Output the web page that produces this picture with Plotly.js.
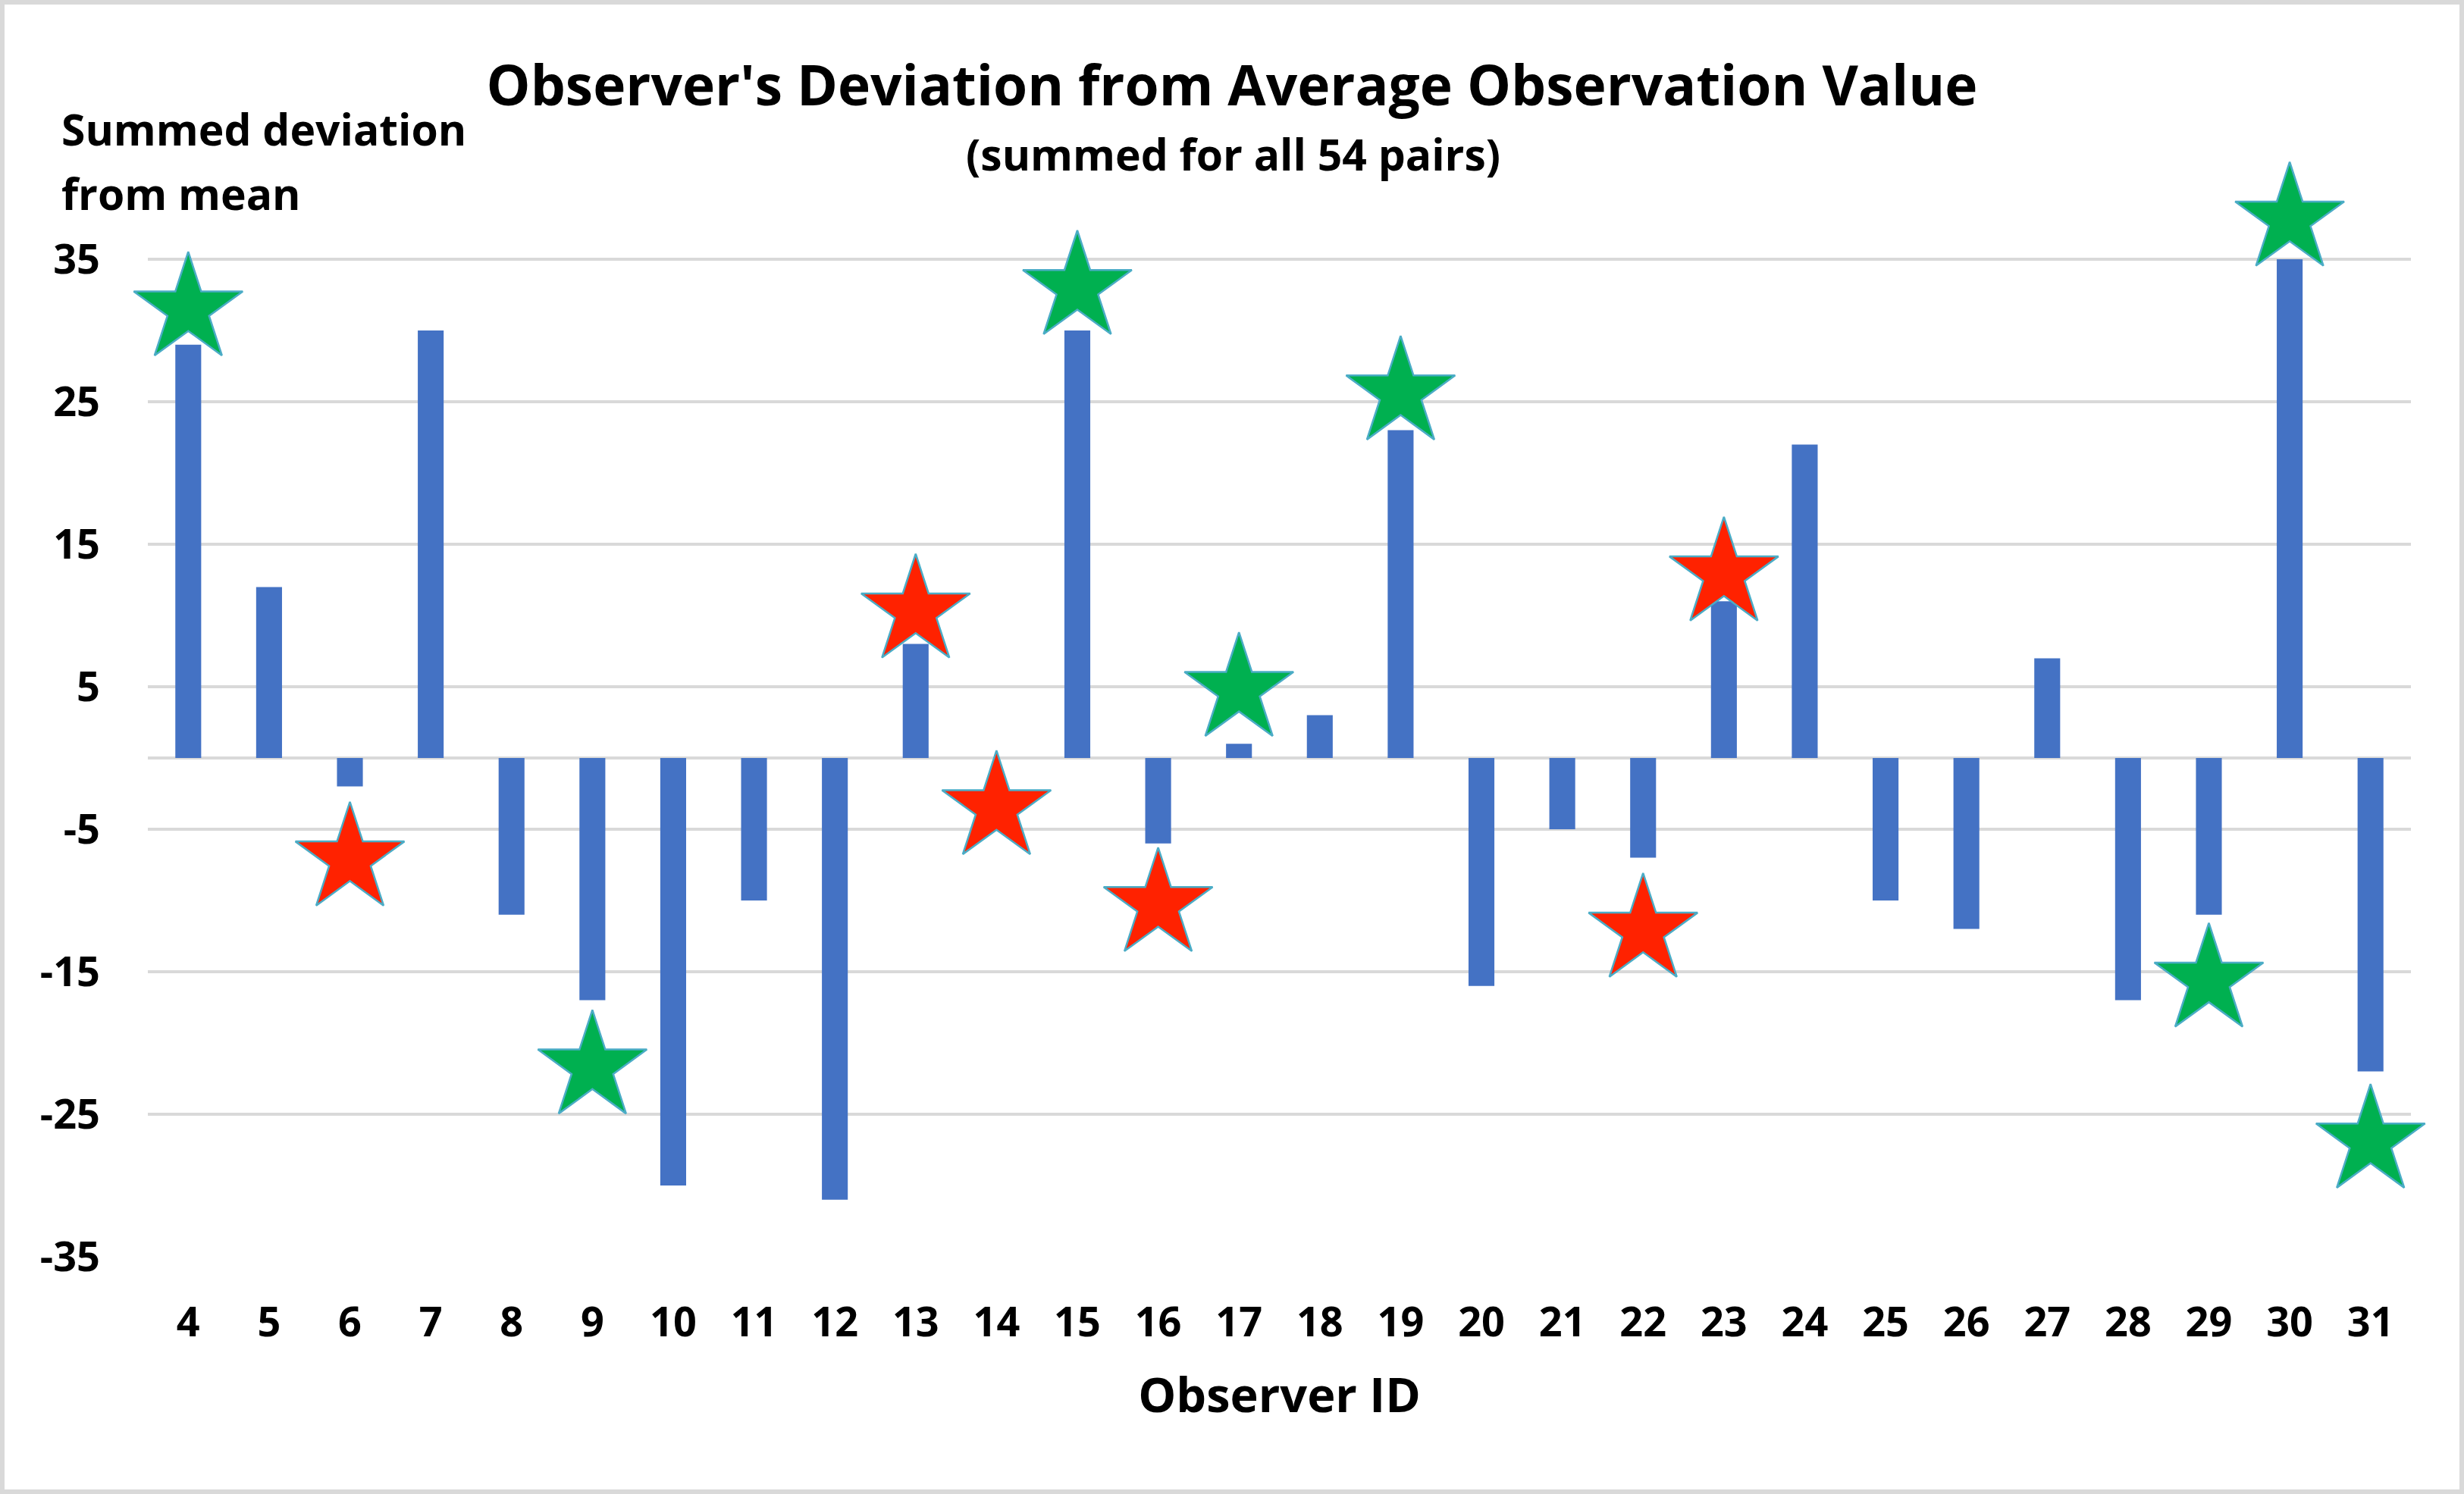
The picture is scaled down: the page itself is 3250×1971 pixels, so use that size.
<!DOCTYPE html>
<html>
<head>
<meta charset="utf-8">
<script src="https://cdn.plot.ly/plotly-3.0.1.min.js"></script>
<style>
  html, body { margin: 0; padding: 0; background: #ffffff; }
  #chart { width: 3250px; height: 1971px; box-sizing: border-box; border: 6px solid #d9d9d9; }
</style>
</head>
<body>
<div id="chart"></div>
<script>
// Observer IDs (categories)
const observers = ['4','5','6','7','8','9','10','11','12','13','14','15','16','17','18','19','20','21','22','23','24','25','26','27','28','29','30','31'];
// Summed deviation from mean for each observer
const deviation = [29, 12, -2, 30, -11, -17, -30, -10, -31, 8, 0, 30, -6, 1, 3, 23, -16, -5, -7, 11, 22, -10, -12, 7, -17, -11, 35, -22];

// Green star markers
const greenObservers = ['4', '9', '15', '17', '19', '29', '30', '31'];
const greenValues = [31.5, -21.7, 33.0, 4.8, 25.6, -15.6, 37.8, -26.9];

// Red star markers
const redObservers = ['6', '13', '14', '16', '22', '23'];
const redValues = [-7.1, 10.3, -3.5, -10.3, -12.1, 12.9];

const yTicks = [-35, -25, -15, -5, 5, 15, 25, 35];

const FONT = '"Open Sans", "Noto Sans", sans-serif';

const traces = [
  {
    type: 'bar',
    x: observers,
    y: deviation,
    width: 0.32,
    marker: { color: '#4472C4' },
    hoverinfo: 'x+y',
    showlegend: false
  },
  {
    type: 'scatter',
    mode: 'markers',
    x: greenObservers,
    y: greenValues,
    cliponaxis: false,
    marker: { symbol: 'star', size: 108, color: '#00B050', line: { color: '#4BACC6', width: 2.5 } },
    showlegend: false
  },
  {
    type: 'scatter',
    mode: 'markers',
    x: redObservers,
    y: redValues,
    cliponaxis: false,
    marker: { symbol: 'star', size: 108, color: '#FF2200', line: { color: '#4BACC6', width: 2.5 } },
    showlegend: false
  }
];

const layout = {
  width: 3238,
  height: 1959,
  margin: { l: 189, r: 64, t: 204, b: 307, pad: 0 },
  paper_bgcolor: '#ffffff',
  plot_bgcolor: '#ffffff',
  font: { family: FONT, color: '#000000' },
  title: {
    text: "Observer's Deviation from Average Observation Value",
    font: { family: FONT, size: 73, weight: 'bold', color: '#000000' },
    x: 0.5, xref: 'container', xanchor: 'center',
    y: 0.945, yref: 'container', yanchor: 'middle'
  },
  xaxis: {
    type: 'category',
    range: [-0.5, 27.5],
    showgrid: false,
    showline: false,
    ticks: '',
    ticklabelstandoff: 50,
    tickfont: { family: FONT, size: 54, weight: 'bold', color: '#000000' },
    title: { text: 'Observer ID', font: { family: FONT, size: 63, weight: 'bold', color: '#000000' }, standoff: 40 },
    automargin: false
  },
  yaxis: {
    range: [-35, 42.021],
    tickvals: yTicks,
    ticktext: yTicks.map(String),
    showgrid: true,
    gridcolor: '#d9d9d9',
    gridwidth: 4,
    zeroline: true,
    zerolinecolor: '#d9d9d9',
    zerolinewidth: 4,
    showline: false,
    ticks: '',
    ticklabelstandoff: 62,
    tickfont: { family: FONT, size: 54, weight: 'bold', color: '#000000' },
    automargin: false
  },
  annotations: [
    {
      text: '(summed for all 54 pairs)',
      xref: 'paper', yref: 'paper', x: 0.4797, y: 1.0048,
      xanchor: 'center', yanchor: 'middle', showarrow: false,
      font: { family: FONT, size: 57, weight: 'bold', color: '#000000' }
    },
    {
      text: 'Summed deviation',
      xref: 'paper', yref: 'paper', x: -0.039, y: 1.0276,
      xanchor: 'left', yanchor: 'middle', showarrow: false,
      font: { family: FONT, size: 57, weight: 'bold', color: '#000000' }
    },
    {
      text: 'from mean',
      xref: 'paper', yref: 'paper', x: -0.039, y: 0.9689,
      xanchor: 'left', yanchor: 'middle', showarrow: false,
      font: { family: FONT, size: 57, weight: 'bold', color: '#000000' }
    }
  ],
  showlegend: false
};

Plotly.newPlot('chart', traces, layout, { displayModeBar: false, staticPlot: true });
</script>
</body>
</html>
